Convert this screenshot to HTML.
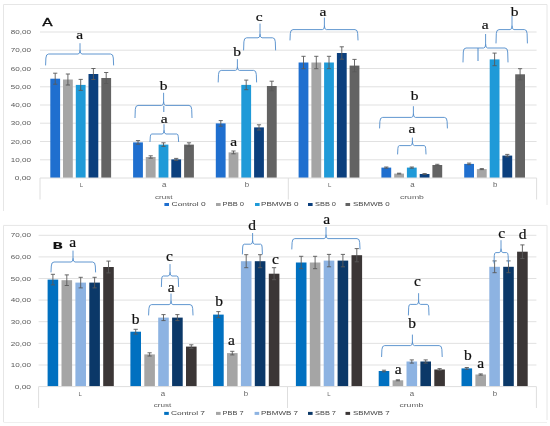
<!DOCTYPE html>
<html><head><meta charset="utf-8"><title>Figure</title>
<style>html,body{margin:0;padding:0;background:#fff}svg{display:block}</style></head>
<body>
<svg width="550" height="426" viewBox="0 0 550 426">
<rect width="550" height="426" fill="#fff"/>
<path d="M3.5,211V4.5H547V205" fill="none" stroke="#e6e6e6" stroke-width="1"/>
<line x1="40" x2="536.6" y1="159.8" y2="159.8" stroke="#dedede" stroke-width="0.9"/>
<line x1="40" x2="536.6" y1="141.5" y2="141.5" stroke="#dedede" stroke-width="0.9"/>
<line x1="40" x2="536.6" y1="123.2" y2="123.2" stroke="#dedede" stroke-width="0.9"/>
<line x1="40" x2="536.6" y1="105.0" y2="105.0" stroke="#dedede" stroke-width="0.9"/>
<line x1="40" x2="536.6" y1="86.8" y2="86.8" stroke="#dedede" stroke-width="0.9"/>
<line x1="40" x2="536.6" y1="68.5" y2="68.5" stroke="#dedede" stroke-width="0.9"/>
<line x1="40" x2="536.6" y1="50.2" y2="50.2" stroke="#dedede" stroke-width="0.9"/>
<line x1="40" x2="536.6" y1="32.0" y2="32.0" stroke="#dedede" stroke-width="0.9"/>
<text x="31.0" y="180.1" font-family="'Liberation Sans',sans-serif" font-size="5.8" text-anchor="end" fill="#595959" textLength="16.3" lengthAdjust="spacingAndGlyphs">0,00</text>
<text x="31.0" y="161.8" font-family="'Liberation Sans',sans-serif" font-size="5.8" text-anchor="end" fill="#595959" textLength="20.3" lengthAdjust="spacingAndGlyphs">10,00</text>
<text x="31.0" y="143.6" font-family="'Liberation Sans',sans-serif" font-size="5.8" text-anchor="end" fill="#595959" textLength="20.3" lengthAdjust="spacingAndGlyphs">20,00</text>
<text x="31.0" y="125.3" font-family="'Liberation Sans',sans-serif" font-size="5.8" text-anchor="end" fill="#595959" textLength="20.3" lengthAdjust="spacingAndGlyphs">30,00</text>
<text x="31.0" y="107.1" font-family="'Liberation Sans',sans-serif" font-size="5.8" text-anchor="end" fill="#595959" textLength="20.3" lengthAdjust="spacingAndGlyphs">40,00</text>
<text x="31.0" y="88.8" font-family="'Liberation Sans',sans-serif" font-size="5.8" text-anchor="end" fill="#595959" textLength="20.3" lengthAdjust="spacingAndGlyphs">50,00</text>
<text x="31.0" y="70.6" font-family="'Liberation Sans',sans-serif" font-size="5.8" text-anchor="end" fill="#595959" textLength="20.3" lengthAdjust="spacingAndGlyphs">60,00</text>
<text x="31.0" y="52.4" font-family="'Liberation Sans',sans-serif" font-size="5.8" text-anchor="end" fill="#595959" textLength="20.3" lengthAdjust="spacingAndGlyphs">70,00</text>
<text x="31.0" y="34.1" font-family="'Liberation Sans',sans-serif" font-size="5.8" text-anchor="end" fill="#595959" textLength="20.3" lengthAdjust="spacingAndGlyphs">80,00</text>
<rect x="50.3" y="78.7" width="9.8" height="99.3" fill="#1f6fcf"/>
<path d="M55.2,73.2V84.2M53.1,73.2H57.3M53.1,84.2H57.3" stroke="#595959" stroke-width="0.9" fill="none"/>
<rect x="63.0" y="79.5" width="9.8" height="98.5" fill="#a5a5a5"/>
<path d="M67.9,74.0V85.0M65.8,74.0H70.0M65.8,85.0H70.0" stroke="#595959" stroke-width="0.9" fill="none"/>
<rect x="75.8" y="84.9" width="9.8" height="93.1" fill="#1f9ad8"/>
<path d="M80.7,79.4V90.4M78.6,79.4H82.8M78.6,90.4H82.8" stroke="#595959" stroke-width="0.9" fill="none"/>
<rect x="88.5" y="74.0" width="9.8" height="104.0" fill="#0b3f7d"/>
<path d="M93.4,68.5V79.5M91.3,68.5H95.5M91.3,79.5H95.5" stroke="#595959" stroke-width="0.9" fill="none"/>
<rect x="101.3" y="78.0" width="9.8" height="100.0" fill="#636363"/>
<path d="M106.2,72.5V83.5M104.1,72.5H108.3M104.1,83.5H108.3" stroke="#595959" stroke-width="0.9" fill="none"/>
<rect x="133.1" y="142.4" width="9.8" height="35.6" fill="#1f6fcf"/>
<path d="M138.0,140.6V144.2M135.9,140.6H140.1M135.9,144.2H140.1" stroke="#595959" stroke-width="0.9" fill="none"/>
<rect x="145.8" y="157.0" width="9.8" height="21.0" fill="#a5a5a5"/>
<path d="M150.7,155.8V158.2M148.6,155.8H152.8M148.6,158.2H152.8" stroke="#595959" stroke-width="0.9" fill="none"/>
<rect x="158.6" y="144.6" width="9.8" height="33.4" fill="#1f9ad8"/>
<path d="M163.5,142.8V146.4M161.4,142.8H165.6M161.4,146.4H165.6" stroke="#595959" stroke-width="0.9" fill="none"/>
<rect x="171.3" y="159.4" width="9.8" height="18.6" fill="#0b3f7d"/>
<path d="M176.2,158.4V160.4M174.1,158.4H178.3M174.1,160.4H178.3" stroke="#595959" stroke-width="0.9" fill="none"/>
<rect x="184.1" y="144.6" width="9.8" height="33.4" fill="#636363"/>
<path d="M189.0,142.8V146.4M186.9,142.8H191.1M186.9,146.4H191.1" stroke="#595959" stroke-width="0.9" fill="none"/>
<rect x="215.8" y="123.4" width="9.8" height="54.6" fill="#1f6fcf"/>
<path d="M220.8,120.6V126.2M218.7,120.6H222.8M218.7,126.2H222.8" stroke="#595959" stroke-width="0.9" fill="none"/>
<rect x="228.6" y="152.4" width="9.8" height="25.6" fill="#a5a5a5"/>
<path d="M233.5,151.0V153.8M231.4,151.0H235.6M231.4,153.8H235.6" stroke="#595959" stroke-width="0.9" fill="none"/>
<rect x="241.3" y="84.9" width="9.8" height="93.1" fill="#1f9ad8"/>
<path d="M246.2,80.1V89.7M244.2,80.1H248.3M244.2,89.7H248.3" stroke="#595959" stroke-width="0.9" fill="none"/>
<rect x="254.1" y="127.4" width="9.8" height="50.6" fill="#0b3f7d"/>
<path d="M259.0,124.8V130.0M256.9,124.8H261.1M256.9,130.0H261.1" stroke="#595959" stroke-width="0.9" fill="none"/>
<rect x="266.9" y="86.0" width="9.8" height="92.0" fill="#636363"/>
<path d="M271.8,81.2V90.8M269.6,81.2H273.9M269.6,90.8H273.9" stroke="#595959" stroke-width="0.9" fill="none"/>
<rect x="298.6" y="62.5" width="9.8" height="115.5" fill="#1f6fcf"/>
<path d="M303.5,56.3V68.7M301.4,56.3H305.6M301.4,68.7H305.6" stroke="#595959" stroke-width="0.9" fill="none"/>
<rect x="311.4" y="62.5" width="9.8" height="115.5" fill="#a5a5a5"/>
<path d="M316.3,56.3V68.7M314.2,56.3H318.4M314.2,68.7H318.4" stroke="#595959" stroke-width="0.9" fill="none"/>
<rect x="324.1" y="62.5" width="9.8" height="115.5" fill="#1f9ad8"/>
<path d="M329.0,56.3V68.7M326.9,56.3H331.1M326.9,68.7H331.1" stroke="#595959" stroke-width="0.9" fill="none"/>
<rect x="336.9" y="53.0" width="9.8" height="125.0" fill="#0b3f7d"/>
<path d="M341.8,46.8V59.2M339.7,46.8H343.9M339.7,59.2H343.9" stroke="#595959" stroke-width="0.9" fill="none"/>
<rect x="349.6" y="65.6" width="9.8" height="112.4" fill="#636363"/>
<path d="M354.5,59.4V71.8M352.4,59.4H356.6M352.4,71.8H356.6" stroke="#595959" stroke-width="0.9" fill="none"/>
<rect x="381.4" y="167.6" width="9.8" height="10.4" fill="#1f6fcf"/>
<path d="M386.3,167.0V168.2M384.2,167.0H388.4M384.2,168.2H388.4" stroke="#595959" stroke-width="0.9" fill="none"/>
<rect x="394.2" y="173.6" width="9.8" height="4.4" fill="#a5a5a5"/>
<path d="M399.1,173.2V174.0M397.0,173.2H401.2M397.0,174.0H401.2" stroke="#595959" stroke-width="0.9" fill="none"/>
<rect x="406.9" y="167.6" width="9.8" height="10.4" fill="#1f9ad8"/>
<path d="M411.8,167.0V168.2M409.7,167.0H413.9M409.7,168.2H413.9" stroke="#595959" stroke-width="0.9" fill="none"/>
<rect x="419.7" y="174.0" width="9.8" height="4.0" fill="#0b3f7d"/>
<path d="M424.6,173.6V174.4M422.5,173.6H426.7M422.5,174.4H426.7" stroke="#595959" stroke-width="0.9" fill="none"/>
<rect x="432.4" y="165.0" width="9.8" height="13.0" fill="#636363"/>
<path d="M437.3,164.3V165.7M435.2,164.3H439.4M435.2,165.7H439.4" stroke="#595959" stroke-width="0.9" fill="none"/>
<rect x="464.2" y="163.9" width="9.8" height="14.1" fill="#1f6fcf"/>
<path d="M469.1,163.1V164.7M467.0,163.1H471.2M467.0,164.7H471.2" stroke="#595959" stroke-width="0.9" fill="none"/>
<rect x="476.9" y="169.1" width="9.8" height="8.9" fill="#a5a5a5"/>
<path d="M481.8,168.6V169.6M479.7,168.6H483.9M479.7,169.6H483.9" stroke="#595959" stroke-width="0.9" fill="none"/>
<rect x="489.7" y="59.4" width="9.8" height="118.6" fill="#1f9ad8"/>
<path d="M494.6,53.1V65.7M492.5,53.1H496.7M492.5,65.7H496.7" stroke="#595959" stroke-width="0.9" fill="none"/>
<rect x="502.4" y="155.6" width="9.8" height="22.4" fill="#0b3f7d"/>
<path d="M507.3,154.4V156.8M505.2,154.4H509.4M505.2,156.8H509.4" stroke="#595959" stroke-width="0.9" fill="none"/>
<rect x="515.2" y="74.3" width="9.8" height="103.7" fill="#636363"/>
<path d="M520.1,68.7V79.9M518.0,68.7H522.2M518.0,79.9H522.2" stroke="#595959" stroke-width="0.9" fill="none"/>
<line x1="40" x2="536.6" y1="178" y2="178" stroke="#dedede" stroke-width="1"/>
<line x1="40.0" x2="40.0" y1="178" y2="199.5" stroke="#dedede" stroke-width="1"/>
<line x1="288.3" x2="288.3" y1="178" y2="199.5" stroke="#dedede" stroke-width="1"/>
<line x1="536.6" x2="536.6" y1="178" y2="199.5" stroke="#dedede" stroke-width="1"/>
<text transform="translate(81.4,187.4) scale(1.25,1)" font-family="'Liberation Sans',sans-serif" font-size="4.8" text-anchor="middle" fill="#666">L</text>
<text transform="translate(164.2,187.4) scale(1.25,1)" font-family="'Liberation Sans',sans-serif" font-size="6.3" text-anchor="middle" fill="#666">a</text>
<text transform="translate(246.9,187.4) scale(1.25,1)" font-family="'Liberation Sans',sans-serif" font-size="6.3" text-anchor="middle" fill="#666">b</text>
<text transform="translate(329.7,187.4) scale(1.25,1)" font-family="'Liberation Sans',sans-serif" font-size="4.8" text-anchor="middle" fill="#666">L</text>
<text transform="translate(412.4,187.4) scale(1.25,1)" font-family="'Liberation Sans',sans-serif" font-size="6.3" text-anchor="middle" fill="#666">a</text>
<text transform="translate(495.2,187.4) scale(1.25,1)" font-family="'Liberation Sans',sans-serif" font-size="6.3" text-anchor="middle" fill="#666">b</text>
<text x="163.7" y="198.5" font-family="'Liberation Sans',sans-serif" font-size="6.2" text-anchor="middle" fill="#595959" textLength="17.5" lengthAdjust="spacingAndGlyphs">crust</text>
<text x="411.9" y="198.5" font-family="'Liberation Sans',sans-serif" font-size="6.2" text-anchor="middle" fill="#595959" textLength="24.0" lengthAdjust="spacingAndGlyphs">crumb</text>
<rect x="164.4" y="203.0" width="4.6" height="3" fill="#1f6fcf"/>
<text x="171.6" y="206.1" font-family="'Liberation Sans',sans-serif" font-size="6.2" text-anchor="start" fill="#454545" textLength="34.0" lengthAdjust="spacingAndGlyphs">Control 0</text>
<rect x="216" y="203.0" width="4.6" height="3" fill="#a5a5a5"/>
<text x="222.6" y="206.1" font-family="'Liberation Sans',sans-serif" font-size="6.2" text-anchor="start" fill="#454545" textLength="21.4" lengthAdjust="spacingAndGlyphs">PBB 0</text>
<rect x="255" y="203.0" width="4.6" height="3" fill="#1f9ad8"/>
<text x="261.0" y="206.1" font-family="'Liberation Sans',sans-serif" font-size="6.2" text-anchor="start" fill="#454545" textLength="37.4" lengthAdjust="spacingAndGlyphs">PBMWB 0</text>
<rect x="308" y="203.0" width="4.6" height="3" fill="#0b3f7d"/>
<text x="315.0" y="206.1" font-family="'Liberation Sans',sans-serif" font-size="6.2" text-anchor="start" fill="#454545" textLength="21.0" lengthAdjust="spacingAndGlyphs">SBB 0</text>
<rect x="345.5" y="203.0" width="4.6" height="3" fill="#636363"/>
<text x="353.0" y="206.1" font-family="'Liberation Sans',sans-serif" font-size="6.2" text-anchor="start" fill="#454545" textLength="36.6" lengthAdjust="spacingAndGlyphs">SBMWB 0</text>
<text x="42.3" y="26.4" font-family="'DejaVu Sans',sans-serif" font-size="10.1" fill="#111" stroke="#111" stroke-width="0.3" textLength="10.4" lengthAdjust="spacingAndGlyphs">A</text>
<path d="M45.6,65.0 L45.9,58.0 Q46.0,54.0 48.6,54.0 L78.0,54.0 Q80.0,54.0 80.0,50.5 L80.0,43.6 M80.0,50.5 Q80.0,54.0 82.0,54.0 L110.6,54.0 Q113.2,54.0 113.3,58.0 L113.6,65.0" fill="none" stroke="#4f8bcb" stroke-width="0.9" stroke-linecap="round"/>
<text transform="translate(79.7,38.9) scale(1.15,1)" font-family="'Liberation Serif',serif" font-size="13.5" text-anchor="middle" fill="#111" stroke="#111" stroke-width="0.2">a</text>
<path d="M135.0,117.6 L135.3,109.4 Q135.4,105.4 138.0,105.4 L161.6,105.4 Q163.6,105.4 163.6,101.9 L163.6,93.2 M163.6,101.9 Q163.6,105.4 165.6,105.4 L189.0,105.4 Q191.6,105.4 191.7,109.4 L192.0,117.6" fill="none" stroke="#4f8bcb" stroke-width="0.9" stroke-linecap="round"/>
<text transform="translate(163.7,90.1) scale(1.15,1)" font-family="'Liberation Serif',serif" font-size="13.5" text-anchor="middle" fill="#111" stroke="#111" stroke-width="0.2">b</text>
<line x1="163.8" x2="163.8" y1="106" y2="112" stroke="#4f8bcb" stroke-width="1"/>
<path d="M150.0,141.6 L150.3,136.8 Q150.4,134.0 151.8,134.0 L162.0,134.0 Q164.0,134.0 164.0,130.5 L164.0,124.6 M164.0,130.5 Q164.0,134.0 166.0,134.0 L176.8,134.0 Q178.2,134.0 178.3,136.8 L178.6,141.6" fill="none" stroke="#4f8bcb" stroke-width="0.9" stroke-linecap="round"/>
<text transform="translate(164.3,123.1) scale(1.15,1)" font-family="'Liberation Serif',serif" font-size="13.5" text-anchor="middle" fill="#111" stroke="#111" stroke-width="0.2">a</text>
<path d="M218.2,82.0 L218.5,74.4 Q218.6,70.4 221.2,70.4 L235.4,70.4 Q237.4,70.4 237.4,66.9 L237.4,59.6 M237.4,66.9 Q237.4,70.4 239.4,70.4 L253.6,70.4 Q256.2,70.4 256.3,74.4 L256.6,82.0" fill="none" stroke="#4f8bcb" stroke-width="0.9" stroke-linecap="round"/>
<text transform="translate(237.0,56.1) scale(1.15,1)" font-family="'Liberation Serif',serif" font-size="13.5" text-anchor="middle" fill="#111" stroke="#111" stroke-width="0.2">b</text>
<path d="M243.6,50.0 L243.9,41.8 Q244.0,37.8 246.6,37.8 L258.0,37.8 Q260.0,37.8 260.0,34.3 L260.0,24.0 M260.0,34.3 Q260.0,37.8 262.0,37.8 L272.6,37.8 Q275.2,37.8 275.3,41.8 L275.6,50.0" fill="none" stroke="#4f8bcb" stroke-width="0.9" stroke-linecap="round"/>
<text transform="translate(259.3,21.1) scale(1.15,1)" font-family="'Liberation Serif',serif" font-size="13.5" text-anchor="middle" fill="#111" stroke="#111" stroke-width="0.2">c</text>
<text transform="translate(233.7,145.5) scale(1.15,1)" font-family="'Liberation Serif',serif" font-size="13.5" text-anchor="middle" fill="#111" stroke="#111" stroke-width="0.2">a</text>
<path d="M290.0,40.0 L290.3,33.6 Q290.4,29.6 293.0,29.6 L322.4,29.6 Q324.4,29.6 324.4,26.1 L324.4,18.0 M324.4,26.1 Q324.4,29.6 326.4,29.6 L355.0,29.6 Q357.6,29.6 357.7,33.6 L358.0,40.0" fill="none" stroke="#4f8bcb" stroke-width="0.9" stroke-linecap="round"/>
<text transform="translate(323.0,15.8) scale(1.15,1)" font-family="'Liberation Serif',serif" font-size="13.5" text-anchor="middle" fill="#111" stroke="#111" stroke-width="0.2">a</text>
<path d="M379.6,128.0 L379.9,121.4 Q380.0,117.4 382.6,117.4 L411.4,117.4 Q413.4,117.4 413.4,113.9 L413.4,106.6 M413.4,113.9 Q413.4,117.4 415.4,117.4 L444.4,117.4 Q447.0,117.4 447.1,121.4 L447.4,128.0" fill="none" stroke="#4f8bcb" stroke-width="0.9" stroke-linecap="round"/>
<text transform="translate(414.5,99.5) scale(1.15,1)" font-family="'Liberation Serif',serif" font-size="13.5" text-anchor="middle" fill="#111" stroke="#111" stroke-width="0.2">b</text>
<path d="M397.6,154.0 L397.9,148.4 Q398.0,145.6 399.4,145.6 L410.4,145.6 Q412.4,145.6 412.4,142.1 L412.4,138.0 M412.4,142.1 Q412.4,145.6 414.4,145.6 L424.2,145.6 Q425.6,145.6 425.7,148.4 L426.0,154.0" fill="none" stroke="#4f8bcb" stroke-width="0.9" stroke-linecap="round"/>
<text transform="translate(412.0,133.1) scale(1.15,1)" font-family="'Liberation Serif',serif" font-size="13.5" text-anchor="middle" fill="#111" stroke="#111" stroke-width="0.2">a</text>
<path d="M463.0,62.0 L463.3,52.0 Q463.4,48.0 466.0,48.0 L483.6,48.0 Q485.6,48.0 485.6,44.5 L485.6,34.4 M485.6,44.5 Q485.6,48.0 487.6,48.0 L505.0,48.0 Q507.6,48.0 507.7,52.0 L508.0,62.0" fill="none" stroke="#4f8bcb" stroke-width="0.9" stroke-linecap="round"/>
<text transform="translate(485.2,28.7) scale(1.15,1)" font-family="'Liberation Serif',serif" font-size="13.5" text-anchor="middle" fill="#111" stroke="#111" stroke-width="0.2">a</text>
<line x1="478" x2="478" y1="48" y2="61" stroke="#4f8bcb" stroke-width="1"/>
<path d="M496.0,43.0 L496.3,33.6 Q496.4,29.6 499.0,29.6 L510.0,29.6 Q512.0,29.6 512.0,26.1 L512.0,16.4 M512.0,26.1 Q512.0,29.6 514.0,29.6 L524.4,29.6 Q527.0,29.6 527.1,33.6 L527.4,43.0" fill="none" stroke="#4f8bcb" stroke-width="0.9" stroke-linecap="round"/>
<text transform="translate(514.5,15.5) scale(1.15,1)" font-family="'Liberation Serif',serif" font-size="13.5" text-anchor="middle" fill="#111" stroke="#111" stroke-width="0.2">b</text>
<path d="M3.5,422V225.4H547V420" fill="none" stroke="#e6e6e6" stroke-width="1"/>
<path d="M3.5,422.5H547" fill="none" stroke="#efefef" stroke-width="1"/>
<line x1="38.6" x2="536.4" y1="365.0" y2="365.0" stroke="#dedede" stroke-width="0.9"/>
<line x1="38.6" x2="536.4" y1="343.4" y2="343.4" stroke="#dedede" stroke-width="0.9"/>
<line x1="38.6" x2="536.4" y1="321.7" y2="321.7" stroke="#dedede" stroke-width="0.9"/>
<line x1="38.6" x2="536.4" y1="300.1" y2="300.1" stroke="#dedede" stroke-width="0.9"/>
<line x1="38.6" x2="536.4" y1="278.5" y2="278.5" stroke="#dedede" stroke-width="0.9"/>
<line x1="38.6" x2="536.4" y1="256.9" y2="256.9" stroke="#dedede" stroke-width="0.9"/>
<line x1="38.6" x2="536.4" y1="235.3" y2="235.3" stroke="#dedede" stroke-width="0.9"/>
<text x="31.0" y="388.7" font-family="'Liberation Sans',sans-serif" font-size="5.8" text-anchor="end" fill="#595959" textLength="16.3" lengthAdjust="spacingAndGlyphs">0,00</text>
<text x="31.0" y="367.1" font-family="'Liberation Sans',sans-serif" font-size="5.8" text-anchor="end" fill="#595959" textLength="20.3" lengthAdjust="spacingAndGlyphs">10,00</text>
<text x="31.0" y="345.5" font-family="'Liberation Sans',sans-serif" font-size="5.8" text-anchor="end" fill="#595959" textLength="20.3" lengthAdjust="spacingAndGlyphs">20,00</text>
<text x="31.0" y="323.8" font-family="'Liberation Sans',sans-serif" font-size="5.8" text-anchor="end" fill="#595959" textLength="20.3" lengthAdjust="spacingAndGlyphs">30,00</text>
<text x="31.0" y="302.2" font-family="'Liberation Sans',sans-serif" font-size="5.8" text-anchor="end" fill="#595959" textLength="20.3" lengthAdjust="spacingAndGlyphs">40,00</text>
<text x="31.0" y="280.6" font-family="'Liberation Sans',sans-serif" font-size="5.8" text-anchor="end" fill="#595959" textLength="20.3" lengthAdjust="spacingAndGlyphs">50,00</text>
<text x="31.0" y="259.0" font-family="'Liberation Sans',sans-serif" font-size="5.8" text-anchor="end" fill="#595959" textLength="20.3" lengthAdjust="spacingAndGlyphs">60,00</text>
<text x="31.0" y="237.4" font-family="'Liberation Sans',sans-serif" font-size="5.8" text-anchor="end" fill="#595959" textLength="20.3" lengthAdjust="spacingAndGlyphs">70,00</text>
<rect x="47.6" y="279.6" width="10.6" height="107.0" fill="#0070c0"/>
<path d="M52.9,274.3V284.9M50.8,274.3H55.0M50.8,284.9H55.0" stroke="#595959" stroke-width="0.9" fill="none"/>
<rect x="61.5" y="280.2" width="10.6" height="106.4" fill="#a5a5a5"/>
<path d="M66.8,274.9V285.5M64.7,274.9H68.9M64.7,285.5H68.9" stroke="#595959" stroke-width="0.9" fill="none"/>
<rect x="75.4" y="282.6" width="10.6" height="104.0" fill="#8db3e2"/>
<path d="M80.7,277.3V287.9M78.6,277.3H82.8M78.6,287.9H82.8" stroke="#595959" stroke-width="0.9" fill="none"/>
<rect x="89.3" y="282.6" width="10.6" height="104.0" fill="#0b3868"/>
<path d="M94.6,277.3V287.9M92.5,277.3H96.7M92.5,287.9H96.7" stroke="#595959" stroke-width="0.9" fill="none"/>
<rect x="103.2" y="267.0" width="10.6" height="119.6" fill="#3b3636"/>
<path d="M108.5,261.1V272.9M106.4,261.1H110.6M106.4,272.9H110.6" stroke="#595959" stroke-width="0.9" fill="none"/>
<rect x="130.4" y="331.7" width="10.6" height="54.9" fill="#0070c0"/>
<path d="M135.7,329.3V334.1M133.6,329.3H137.8M133.6,334.1H137.8" stroke="#595959" stroke-width="0.9" fill="none"/>
<rect x="144.3" y="354.4" width="10.6" height="32.2" fill="#a5a5a5"/>
<path d="M149.6,352.8V356.0M147.5,352.8H151.7M147.5,356.0H151.7" stroke="#595959" stroke-width="0.9" fill="none"/>
<rect x="158.2" y="317.6" width="10.6" height="69.0" fill="#8db3e2"/>
<path d="M163.5,314.6V320.6M161.4,314.6H165.6M161.4,320.6H165.6" stroke="#595959" stroke-width="0.9" fill="none"/>
<rect x="172.1" y="317.6" width="10.6" height="69.0" fill="#0b3868"/>
<path d="M177.4,314.6V320.6M175.3,314.6H179.5M175.3,320.6H179.5" stroke="#595959" stroke-width="0.9" fill="none"/>
<rect x="186.0" y="346.6" width="10.6" height="40.0" fill="#3b3636"/>
<path d="M191.3,344.8V348.4M189.2,344.8H193.4M189.2,348.4H193.4" stroke="#595959" stroke-width="0.9" fill="none"/>
<rect x="213.1" y="314.6" width="10.6" height="72.0" fill="#0070c0"/>
<path d="M218.4,311.6V317.6M216.3,311.6H220.5M216.3,317.6H220.5" stroke="#595959" stroke-width="0.9" fill="none"/>
<rect x="227.0" y="353.1" width="10.6" height="33.5" fill="#a5a5a5"/>
<path d="M232.3,351.3V354.9M230.2,351.3H234.4M230.2,354.9H234.4" stroke="#595959" stroke-width="0.9" fill="none"/>
<rect x="240.9" y="261.2" width="10.6" height="125.4" fill="#8db3e2"/>
<path d="M246.2,254.7V267.7M244.2,254.7H248.3M244.2,267.7H248.3" stroke="#595959" stroke-width="0.9" fill="none"/>
<rect x="254.8" y="261.2" width="10.6" height="125.4" fill="#0b3868"/>
<path d="M260.1,254.7V267.7M258.0,254.7H262.2M258.0,267.7H262.2" stroke="#595959" stroke-width="0.9" fill="none"/>
<rect x="268.8" y="273.7" width="10.6" height="112.9" fill="#3b3636"/>
<path d="M274.1,267.7V279.7M271.9,267.7H276.2M271.9,279.7H276.2" stroke="#595959" stroke-width="0.9" fill="none"/>
<rect x="295.9" y="262.5" width="10.6" height="124.1" fill="#0070c0"/>
<path d="M301.2,256.3V268.7M299.1,256.3H303.3M299.1,268.7H303.3" stroke="#595959" stroke-width="0.9" fill="none"/>
<rect x="309.8" y="262.5" width="10.6" height="124.1" fill="#a5a5a5"/>
<path d="M315.1,256.3V268.7M313.0,256.3H317.2M313.0,268.7H317.2" stroke="#595959" stroke-width="0.9" fill="none"/>
<rect x="323.7" y="260.6" width="10.6" height="126.0" fill="#8db3e2"/>
<path d="M329.0,254.4V266.8M326.9,254.4H331.1M326.9,266.8H331.1" stroke="#595959" stroke-width="0.9" fill="none"/>
<rect x="337.6" y="260.6" width="10.6" height="126.0" fill="#0b3868"/>
<path d="M342.9,254.4V266.8M340.8,254.4H345.0M340.8,266.8H345.0" stroke="#595959" stroke-width="0.9" fill="none"/>
<rect x="351.5" y="255.2" width="10.6" height="131.4" fill="#3b3636"/>
<path d="M356.8,248.6V261.8M354.7,248.6H358.9M354.7,261.8H358.9" stroke="#595959" stroke-width="0.9" fill="none"/>
<rect x="378.7" y="371.0" width="10.6" height="15.6" fill="#0070c0"/>
<path d="M384.0,370.2V371.8M381.9,370.2H386.1M381.9,371.8H386.1" stroke="#595959" stroke-width="0.9" fill="none"/>
<rect x="392.6" y="380.3" width="10.6" height="6.3" fill="#a5a5a5"/>
<path d="M397.9,379.8V380.8M395.8,379.8H400.0M395.8,380.8H400.0" stroke="#595959" stroke-width="0.9" fill="none"/>
<rect x="406.5" y="361.5" width="10.6" height="25.1" fill="#8db3e2"/>
<path d="M411.8,359.9V363.1M409.7,359.9H413.9M409.7,363.1H413.9" stroke="#595959" stroke-width="0.9" fill="none"/>
<rect x="420.4" y="361.5" width="10.6" height="25.1" fill="#0b3868"/>
<path d="M425.7,359.9V363.1M423.6,359.9H427.8M423.6,363.1H427.8" stroke="#595959" stroke-width="0.9" fill="none"/>
<rect x="434.3" y="369.5" width="10.6" height="17.1" fill="#3b3636"/>
<path d="M439.6,368.6V370.4M437.5,368.6H441.7M437.5,370.4H441.7" stroke="#595959" stroke-width="0.9" fill="none"/>
<rect x="461.5" y="368.4" width="10.6" height="18.2" fill="#0070c0"/>
<path d="M466.8,367.5V369.3M464.7,367.5H468.9M464.7,369.3H468.9" stroke="#595959" stroke-width="0.9" fill="none"/>
<rect x="475.4" y="374.5" width="10.6" height="12.1" fill="#a5a5a5"/>
<path d="M480.7,373.9V375.1M478.6,373.9H482.8M478.6,375.1H482.8" stroke="#595959" stroke-width="0.9" fill="none"/>
<rect x="489.3" y="266.8" width="10.6" height="119.8" fill="#8db3e2"/>
<path d="M494.6,260.9V272.7M492.5,260.9H496.7M492.5,272.7H496.7" stroke="#595959" stroke-width="0.9" fill="none"/>
<rect x="503.2" y="266.8" width="10.6" height="119.8" fill="#0b3868"/>
<path d="M508.5,260.9V272.7M506.4,260.9H510.6M506.4,272.7H510.6" stroke="#595959" stroke-width="0.9" fill="none"/>
<rect x="517.1" y="251.7" width="10.6" height="134.9" fill="#3b3636"/>
<path d="M522.4,244.9V258.5M520.3,244.9H524.5M520.3,258.5H524.5" stroke="#595959" stroke-width="0.9" fill="none"/>
<line x1="38.6" x2="536.4" y1="386.6" y2="386.6" stroke="#dedede" stroke-width="1"/>
<line x1="38.6" x2="38.6" y1="386.6" y2="408" stroke="#dedede" stroke-width="1"/>
<line x1="287.5" x2="287.5" y1="386.6" y2="408" stroke="#dedede" stroke-width="1"/>
<line x1="536.4" x2="536.4" y1="386.6" y2="408" stroke="#dedede" stroke-width="1"/>
<text transform="translate(80.1,395.8) scale(1.25,1)" font-family="'Liberation Sans',sans-serif" font-size="4.8" text-anchor="middle" fill="#666">L</text>
<text transform="translate(163.0,395.8) scale(1.25,1)" font-family="'Liberation Sans',sans-serif" font-size="6.3" text-anchor="middle" fill="#666">a</text>
<text transform="translate(246.0,395.8) scale(1.25,1)" font-family="'Liberation Sans',sans-serif" font-size="6.3" text-anchor="middle" fill="#666">b</text>
<text transform="translate(329.0,395.8) scale(1.25,1)" font-family="'Liberation Sans',sans-serif" font-size="4.8" text-anchor="middle" fill="#666">L</text>
<text transform="translate(411.9,395.8) scale(1.25,1)" font-family="'Liberation Sans',sans-serif" font-size="6.3" text-anchor="middle" fill="#666">a</text>
<text transform="translate(494.9,395.8) scale(1.25,1)" font-family="'Liberation Sans',sans-serif" font-size="6.3" text-anchor="middle" fill="#666">b</text>
<text x="162.5" y="406.7" font-family="'Liberation Sans',sans-serif" font-size="6.2" text-anchor="middle" fill="#595959" textLength="17.5" lengthAdjust="spacingAndGlyphs">crust</text>
<text x="411.4" y="406.7" font-family="'Liberation Sans',sans-serif" font-size="6.2" text-anchor="middle" fill="#595959" textLength="24.0" lengthAdjust="spacingAndGlyphs">crumb</text>
<rect x="164.2" y="411.9" width="4.6" height="3" fill="#0070c0"/>
<text x="171.0" y="415.0" font-family="'Liberation Sans',sans-serif" font-size="6.2" text-anchor="start" fill="#454545" textLength="34.0" lengthAdjust="spacingAndGlyphs">Control 7</text>
<rect x="216" y="411.9" width="4.6" height="3" fill="#a5a5a5"/>
<text x="222.6" y="415.0" font-family="'Liberation Sans',sans-serif" font-size="6.2" text-anchor="start" fill="#454545" textLength="21.0" lengthAdjust="spacingAndGlyphs">PBB 7</text>
<rect x="254.6" y="411.9" width="4.6" height="3" fill="#8db3e2"/>
<text x="261.0" y="415.0" font-family="'Liberation Sans',sans-serif" font-size="6.2" text-anchor="start" fill="#454545" textLength="37.0" lengthAdjust="spacingAndGlyphs">PBMWB 7</text>
<rect x="308" y="411.9" width="4.6" height="3" fill="#0b3868"/>
<text x="315.0" y="415.0" font-family="'Liberation Sans',sans-serif" font-size="6.2" text-anchor="start" fill="#454545" textLength="21.0" lengthAdjust="spacingAndGlyphs">SBB 7</text>
<rect x="345.5" y="411.9" width="4.6" height="3" fill="#3b3636"/>
<text x="353.0" y="415.0" font-family="'Liberation Sans',sans-serif" font-size="6.2" text-anchor="start" fill="#454545" textLength="36.6" lengthAdjust="spacingAndGlyphs">SBMWB 7</text>
<text x="52.2" y="249.3" font-family="'DejaVu Sans',sans-serif" font-weight="bold" font-size="9.3" fill="#111" textLength="11.1" lengthAdjust="spacingAndGlyphs">B</text>
<path d="M51.0,272.0 L51.3,266.0 Q51.4,262.0 54.0,262.0 L71.0,262.0 Q73.0,262.0 73.0,258.5 L73.0,251.0 M73.0,258.5 Q73.0,262.0 75.0,262.0 L92.6,262.0 Q95.2,262.0 95.3,266.0 L95.6,272.0" fill="none" stroke="#4f8bcb" stroke-width="0.9" stroke-linecap="round"/>
<text transform="translate(72.6,247.0) scale(1.07,1)" font-family="'Liberation Serif',serif" font-size="14.5" text-anchor="middle" fill="#111" stroke="#111" stroke-width="0.2">a</text>
<path d="M161.4,286.6 L161.7,278.8 Q161.8,276.0 163.2,276.0 L168.0,276.0 Q170.0,276.0 170.0,272.5 L170.0,264.5 M170.0,272.5 Q170.0,276.0 172.0,276.0 L176.8,276.0 Q178.2,276.0 178.3,278.8 L178.6,286.6" fill="none" stroke="#4f8bcb" stroke-width="0.9" stroke-linecap="round"/>
<text transform="translate(169.5,260.6) scale(1.07,1)" font-family="'Liberation Serif',serif" font-size="14.5" text-anchor="middle" fill="#111" stroke="#111" stroke-width="0.2">c</text>
<path d="M148.6,315.0 L148.9,308.6 Q149.0,304.6 151.6,304.6 L169.0,304.6 Q171.0,304.6 171.0,301.1 L171.0,294.0 M171.0,301.1 Q171.0,304.6 173.0,304.6 L190.0,304.6 Q192.6,304.6 192.7,308.6 L193.0,315.0" fill="none" stroke="#4f8bcb" stroke-width="0.9" stroke-linecap="round"/>
<text transform="translate(171.2,291.6) scale(1.07,1)" font-family="'Liberation Serif',serif" font-size="14.5" text-anchor="middle" fill="#111" stroke="#111" stroke-width="0.2">a</text>
<text transform="translate(135.7,323.6) scale(1.07,1)" font-family="'Liberation Serif',serif" font-size="14.5" text-anchor="middle" fill="#111" stroke="#111" stroke-width="0.2">b</text>
<text transform="translate(219.2,306.0) scale(1.07,1)" font-family="'Liberation Serif',serif" font-size="14.5" text-anchor="middle" fill="#111" stroke="#111" stroke-width="0.2">b</text>
<text transform="translate(231.4,345.4) scale(1.07,1)" font-family="'Liberation Serif',serif" font-size="14.5" text-anchor="middle" fill="#111" stroke="#111" stroke-width="0.2">a</text>
<path d="M242.4,254.0 L242.7,247.0 Q242.8,244.2 244.2,244.2 L250.6,244.2 Q252.6,244.2 252.6,240.7 L252.6,233.4 M252.6,240.7 Q252.6,244.2 254.6,244.2 L260.6,244.2 Q262.0,244.2 262.1,247.0 L262.4,254.0" fill="none" stroke="#4f8bcb" stroke-width="0.9" stroke-linecap="round"/>
<text transform="translate(252.0,230.0) scale(1.07,1)" font-family="'Liberation Serif',serif" font-size="14.5" text-anchor="middle" fill="#111" stroke="#111" stroke-width="0.2">d</text>
<text transform="translate(275.5,263.6) scale(1.07,1)" font-family="'Liberation Serif',serif" font-size="14.5" text-anchor="middle" fill="#111" stroke="#111" stroke-width="0.2">c</text>
<path d="M291.8,249.0 L292.1,242.6 Q292.2,238.6 294.8,238.6 L324.0,238.6 Q326.0,238.6 326.0,235.1 L326.0,227.4 M326.0,235.1 Q326.0,238.6 328.0,238.6 L357.0,238.6 Q359.6,238.6 359.7,242.6 L360.0,249.0" fill="none" stroke="#4f8bcb" stroke-width="0.9" stroke-linecap="round"/>
<text transform="translate(326.7,224.0) scale(1.07,1)" font-family="'Liberation Serif',serif" font-size="14.5" text-anchor="middle" fill="#111" stroke="#111" stroke-width="0.2">a</text>
<path d="M408.4,315.0 L408.7,307.2 Q408.8,304.4 410.2,304.4 L416.6,304.4 Q418.6,304.4 418.6,300.9 L418.6,293.6 M418.6,300.9 Q418.6,304.4 420.6,304.4 L427.2,304.4 Q428.6,304.4 428.7,307.2 L429.0,315.0" fill="none" stroke="#4f8bcb" stroke-width="0.9" stroke-linecap="round"/>
<text transform="translate(417.5,285.6) scale(1.07,1)" font-family="'Liberation Serif',serif" font-size="14.5" text-anchor="middle" fill="#111" stroke="#111" stroke-width="0.2">c</text>
<path d="M381.6,356.6 L381.9,349.6 Q382.0,345.6 384.6,345.6 L410.4,345.6 Q412.4,345.6 412.4,342.1 L412.4,335.0 M412.4,342.1 Q412.4,345.6 414.4,345.6 L439.2,345.6 Q441.8,345.6 441.9,349.6 L442.2,356.6" fill="none" stroke="#4f8bcb" stroke-width="0.9" stroke-linecap="round"/>
<text transform="translate(412.2,327.6) scale(1.07,1)" font-family="'Liberation Serif',serif" font-size="14.5" text-anchor="middle" fill="#111" stroke="#111" stroke-width="0.2">b</text>
<text transform="translate(398.2,374.0) scale(1.07,1)" font-family="'Liberation Serif',serif" font-size="14.5" text-anchor="middle" fill="#111" stroke="#111" stroke-width="0.2">a</text>
<text transform="translate(467.9,360.4) scale(1.07,1)" font-family="'Liberation Serif',serif" font-size="14.5" text-anchor="middle" fill="#111" stroke="#111" stroke-width="0.2">b</text>
<text transform="translate(480.6,367.6) scale(1.07,1)" font-family="'Liberation Serif',serif" font-size="14.5" text-anchor="middle" fill="#111" stroke="#111" stroke-width="0.2">a</text>
<path d="M494.0,263.0 L494.3,255.4 Q494.4,252.6 495.8,252.6 L499.0,252.6 Q501.0,252.6 501.0,249.1 L501.0,240.6 M501.0,249.1 Q501.0,252.6 503.0,252.6 L506.6,252.6 Q508.0,252.6 508.1,255.4 L508.4,263.0" fill="none" stroke="#4f8bcb" stroke-width="0.9" stroke-linecap="round"/>
<text transform="translate(501.8,238.4) scale(1.07,1)" font-family="'Liberation Serif',serif" font-size="14.5" text-anchor="middle" fill="#111" stroke="#111" stroke-width="0.2">c</text>
<text transform="translate(522.5,239.4) scale(1.07,1)" font-family="'Liberation Serif',serif" font-size="14.5" text-anchor="middle" fill="#111" stroke="#111" stroke-width="0.2">d</text>
</svg>
</body></html>
